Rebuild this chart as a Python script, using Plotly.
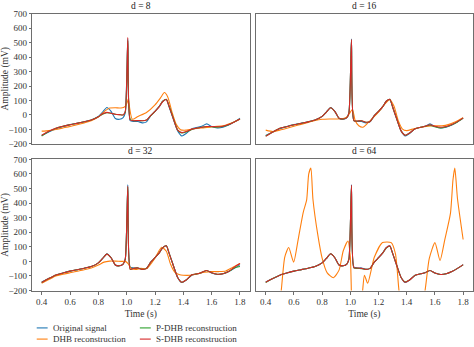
import plotly.graph_objects as go

# ---------------- data ----------------
# common time grid for original signal and the close reconstructions
t_grid = [0.40, 0.45, 0.50, 0.55, 0.60, 0.65, 0.70, 0.75, 0.80, 0.83, 0.86, 0.89, 0.92, 0.95,
          0.975, 0.99, 1.008, 1.025, 1.05, 1.08, 1.11, 1.14, 1.17, 1.20, 1.23, 1.255, 1.28,
          1.30, 1.33, 1.36, 1.39, 1.42, 1.46, 1.50, 1.53, 1.565, 1.60, 1.64, 1.68, 1.72, 1.76, 1.80]

original = [-142, -118, -95, -80, -67, -57, -47, -35, -10, 20, 52, 25, -25, -30,
            -18, 15, 525, -40, -45, -45, -55, -48, -5, 25, 58, 95, 107,
            55, -30, -110, -145, -128, -95, -85, -78, -62, -80, -90, -85, -70, -48, -22]

# d = 8
pdhb_d8 = [-145, -115, -92, -78, -68, -58, -47, -35, -12, 5, 15, 12, 5, 2,
           0, 20, 515, -30, -40, -38, -40, -35, -5, 25, 60, 95, 108,
           60, -25, -105, -125, -118, -100, -90, -85, -80, -82, -85, -80, -68, -48, -28]
sdhb_d8 = [-140, -113, -92, -78, -68, -58, -47, -35, -12, 8, 18, 12, 5, 2,
           0, 25, 535, -35, -40, -38, -40, -35, -3, 25, 58, 93, 106,
           58, -28, -105, -122, -115, -98, -90, -85, -80, -80, -82, -78, -66, -48, -28]
dhb_d8_t = [0.40, 0.45, 0.50, 0.55, 0.60, 0.65, 0.70, 0.75, 0.80, 0.85, 0.88, 0.92, 0.96, 0.99,
            1.005, 1.012, 1.022, 1.04, 1.08, 1.14, 1.20, 1.24, 1.266, 1.29, 1.32, 1.35, 1.38,
            1.42, 1.48, 1.55, 1.62, 1.68, 1.74, 1.80]
dhb_d8_v = [-112, -108, -100, -90, -80, -68, -55, -40, -15, 30, 48, 50, 48, 60,
            90, 112, 40, -30, -10, 17, 70, 120, 155, 125, 20, -65, -102,
            -105, -95, -88, -80, -75, -55, -30]

# d = 16
pdhb_d16 = [-145, -118, -92, -80, -68, -58, -48, -35, -10, 20, 50, 25, -22, -28,
            -18, 15, 518, -40, -42, -40, -50, -45, -5, 25, 58, 95, 108,
            55, -30, -110, -140, -125, -95, -85, -78, -70, -82, -90, -82, -68, -48, -22]
sdhb_d16 = [-148, -118, -92, -80, -68, -58, -48, -35, -10, 20, 50, 25, -22, -28,
            -18, 15, 522, -40, -42, -40, -50, -45, -5, 25, 58, 95, 108,
            55, -30, -110, -140, -125, -95, -85, -78, -68, -78, -85, -80, -66, -46, -20]
dhb_d16_t = [0.40, 0.45, 0.50, 0.55, 0.60, 0.65, 0.70, 0.75, 0.80, 0.85, 0.90, 0.95, 0.98,
             1.0, 1.015, 1.035, 1.06, 1.09, 1.12, 1.16, 1.20, 1.24, 1.28, 1.31, 1.34, 1.37,
             1.40, 1.45, 1.50, 1.55, 1.60, 1.65, 1.70, 1.75, 1.80]
dhb_d16_v = [-105, -115, -105, -92, -78, -65, -52, -38, -30, -28, -28, -25, -10,
             20, 38, -40, -75, -85, -60, -20, 20, 70, 105, 60, -40, -98,
             -108, -95, -85, -78, -75, -75, -65, -45, -20]

# d = 32
pdhb_d32 = [-145, -118, -93, -80, -67, -57, -47, -35, -10, 20, 50, 25, -25, -30,
            -18, 15, 510, -55, -48, -45, -55, -48, -5, 25, 58, 95, 107,
            55, -30, -110, -143, -128, -92, -85, -75, -62, -78, -88, -85, -70, -45, -35]
sdhb_d32 = [-145, -118, -93, -80, -67, -57, -47, -35, -10, 20, 50, 25, -25, -30,
            -18, 15, 515, -55, -48, -45, -55, -48, -5, 25, 58, 95, 107,
            55, -30, -110, -143, -128, -92, -85, -75, -62, -78, -88, -85, -70, -40, -15]
dhb_d32_t = [0.40, 0.45, 0.50, 0.55, 0.60, 0.65, 0.70, 0.75, 0.80, 0.84, 0.88, 0.92, 0.96,
             0.99, 1.01, 1.03, 1.06, 1.10, 1.14, 1.18, 1.21, 1.247, 1.28, 1.31, 1.34, 1.37,
             1.40, 1.45, 1.50, 1.55, 1.60, 1.65, 1.70, 1.75, 1.80]
dhb_d32_v = [-150, -125, -100, -88, -78, -68, -58, -45, -25, -5, 2, 2, 0,
             0, -15, -45, -55, -48, -50, -5, 40, 97, 70, -20, -75, -90,
             -95, -95, -85, -75, -70, -70, -66, -40, -15]

# d = 64
pdhb_d64 = [-145, -118, -95, -80, -67, -57, -47, -35, -10, 20, 52, 25, -25, -30,
            -18, 15, 515, -45, -48, -50, -55, -48, -5, 25, 58, 92, 104,
            55, -30, -110, -140, -128, -95, -85, -78, -62, -80, -90, -85, -70, -48, -24]
sdhb_d64 = [-143, -118, -95, -80, -67, -57, -47, -35, -10, 20, 52, 25, -25, -30,
            -18, 15, 522, -42, -45, -48, -55, -48, -5, 25, 58, 94, 106,
            55, -30, -110, -143, -128, -95, -85, -78, -62, -80, -90, -85, -70, -48, -22]
dhb_d64_t = [0.40, 0.45, 0.48, 0.51, 0.535, 0.563, 0.598, 0.63, 0.666, 0.69, 0.705, 0.72,
             0.735, 0.77, 0.80, 0.836, 0.88, 0.92, 0.95, 0.983, 1.0, 1.012, 1.03, 1.06,
             1.085, 1.10, 1.123, 1.17, 1.228, 1.29, 1.32, 1.345, 1.38, 1.43, 1.48, 1.53,
             1.56, 1.60, 1.636, 1.67, 1.71, 1.728, 1.741, 1.76, 1.80]
dhb_d64_v = [-900, -700, -450, -200, 30, 95, -5, 150, 337, 420, 600, 640,
             425, 178, 22, -79, -112, -60, 73, 140, 30, -350, -500, -350,
             -220, -95, -150, 28, 129, 129, 51, -200, -450, -600, -450, -200,
             20, 129, 6, 150, 330, 560, 640, 430, 150]

panels = [
    ("d = 8", dhb_d8_t, dhb_d8_v, pdhb_d8, sdhb_d8),
    ("d = 16", dhb_d16_t, dhb_d16_v, pdhb_d16, sdhb_d16),
    ("d = 32", dhb_d32_t, dhb_d32_v, pdhb_d32, sdhb_d32),
    ("d = 64", dhb_d64_t, dhb_d64_v, pdhb_d64, sdhb_d64),
]

series_names = ["Original signal", "DHB reconstruction", "P-DHB reconstruction", "S-DHB reconstruction"]
colors = ["#1f77b4", "#ff7f0e", "#2ca02c", "#d62728"]

x_ticks = [0.4, 0.6, 0.8, 1.0, 1.2, 1.4, 1.6, 1.8]
y_ticks = [-200, -100, 0, 100, 200, 300, 400, 500, 600, 700]

# ---------------- figure ----------------
W, H = 474, 347
FONT = "Liberation Serif, Times New Roman, serif"
fig = go.Figure()


def px_x(p):
    return p / W


def px_y(p):
    return 1 - p / H


# panel pixel boxes (left, right, top, bottom)
boxes = [(28, 248, 9, 143), (254, 473, 9, 143), (28, 248, 159, 294), (254, 473, 159, 294)]

for i, (title, dt, dv, pv, sv) in enumerate(panels):
    ax = "" if i == 0 else str(i + 1)
    xa, ya = "x" + ax, "y" + ax
    data = [(t_grid, original), (dt, dv), (t_grid, pv), (t_grid, sv)]
    for k, (tx, vy) in enumerate(data):
        fig.add_trace(go.Scatter(x=tx, y=vy, mode="lines", name=series_names[k],
                                 line=dict(color=colors[k], width=1.1, shape="spline", smoothing=0.6),
                                 showlegend=False, xaxis=xa, yaxis=ya, cliponaxis=True))
    l, r, t, b = boxes[i]
    bottom_row = i >= 2
    left_col = i % 2 == 0
    fig.layout["xaxis" + ax] = dict(
        domain=[px_x(l), px_x(r)], anchor=ya, range=[0.33, 1.87],
        showline=True, mirror=True, linecolor="#6e6e6e", linewidth=1, showgrid=False, zeroline=False,
        tickvals=x_ticks, ticktext=[f"{v:.1f}" for v in x_ticks],
        ticks="outside" if bottom_row else "", ticklen=3, tickcolor="#6e6e6e",
        showticklabels=bottom_row, tickfont=dict(family=FONT, size=9, color="#333333"),
        title=dict(text="Time (s)" if bottom_row else "", font=dict(family=FONT, size=9.5, color="#333333"),
                   standoff=4),
    )
    fig.layout["yaxis" + ax] = dict(
        domain=[px_y(b), px_y(t)], anchor=xa, range=[-200, 700],
        showline=True, mirror=True, linecolor="#6e6e6e", linewidth=1, showgrid=False, zeroline=False,
        tickvals=y_ticks, ticks="outside" if left_col else "", ticklen=2, tickcolor="#6e6e6e",
        showticklabels=left_col, tickfont=dict(family=FONT, size=9, color="#333333"),
        title=dict(text="Amplitude (mV)" if left_col else "", font=dict(family=FONT, size=9.5, color="#333333"),
                   standoff=2),
    )
    fig.add_annotation(text=title, xref="paper", yref="paper", x=px_x((l + r) / 2), y=px_y(t - 1),
                       xanchor="center", yanchor="bottom", showarrow=False,
                       font=dict(family=FONT, size=9.5, color="#222222"))

# legend (two columns, drawn below the panels)
legend_pos = [(33, 332.5), (33, 344), (137, 332.5), (137, 344)]
for k, (lx, ly) in enumerate(legend_pos):
    fig.add_shape(type="line", xref="paper", yref="paper", x0=px_x(lx), x1=px_x(lx + 11),
                  y0=px_y(ly), y1=px_y(ly), line=dict(color=colors[k], width=1.1))
    fig.add_annotation(text=series_names[k], xref="paper", yref="paper", x=px_x(lx + 14), y=px_y(ly),
                       xanchor="left", yanchor="middle", showarrow=False,
                       font=dict(family=FONT, size=9, color="#333333"))

fig.update_layout(width=W, height=H, margin=dict(l=0, r=0, t=0, b=0),
                  paper_bgcolor="white", plot_bgcolor="white", showlegend=False,
                  font=dict(family=FONT, size=9, color="#333333"))

fig.write_html("out.html")
